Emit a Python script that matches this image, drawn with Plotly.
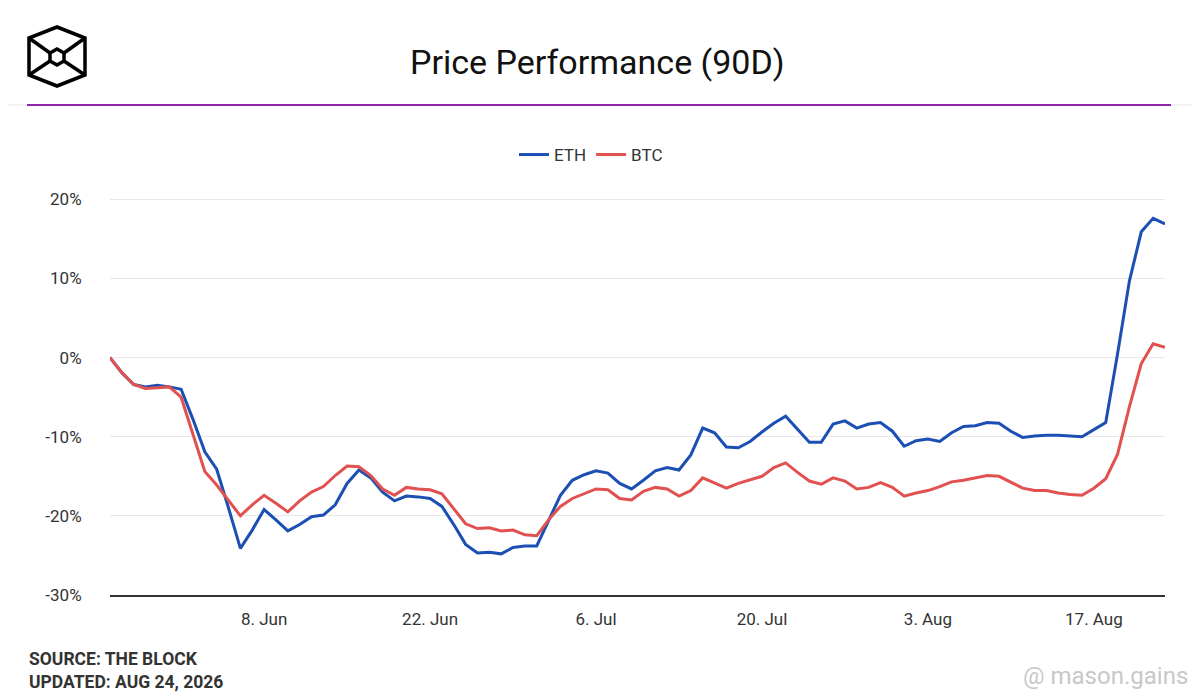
import plotly.graph_objects as go
import pandas as pd

# daily % change over 90 days, 26 May -> 23 Aug 2026
dates = pd.date_range("2026-05-26", periods=90, freq="D")

eth = [0, -1.9, -3.4, -3.7, -3.5, -3.7, -4.0, -7.8, -11.9, -14.1,
       -19.0, -24.1, -21.8, -19.2, -20.5, -21.9, -21.1, -20.1, -19.9, -18.6,
       -15.9, -14.2, -15.2, -17.0, -18.1, -17.5, -17.6, -17.8, -18.8, -21.1,
       -23.6, -24.7, -24.6, -24.8, -24.0, -23.8, -23.8, -20.7, -17.4, -15.5,
       -14.8, -14.3, -14.6, -15.9, -16.6, -15.5, -14.3, -13.9, -14.2, -12.3,
       -8.9, -9.5, -11.3, -11.4, -10.6, -9.4, -8.3, -7.4, -9.0, -10.7,
       -10.7, -8.4, -8.0, -8.9, -8.4, -8.2, -9.3, -11.2, -10.5, -10.3,
       -10.6, -9.5, -8.7, -8.6, -8.2, -8.3, -9.3, -10.1, -9.9, -9.8,
       -9.8, -9.9, -10.0, -9.1, -8.2, 0.5, 9.7, 15.9, 17.6, 16.9]

btc = [0, -1.9, -3.4, -3.9, -3.8, -3.7, -5.0, -9.8, -14.4, -16.1,
       -18.0, -20.0, -18.6, -17.4, -18.4, -19.5, -18.1, -17.0, -16.3, -14.9,
       -13.7, -13.8, -14.9, -16.6, -17.4, -16.4, -16.6, -16.7, -17.2, -19.1,
       -21.0, -21.6, -21.5, -21.9, -21.8, -22.4, -22.5, -20.5, -18.8, -17.8,
       -17.2, -16.6, -16.7, -17.8, -18.0, -16.9, -16.4, -16.6, -17.5, -16.8,
       -15.2, -15.9, -16.5, -15.9, -15.4, -15.0, -13.9, -13.3, -14.5, -15.6,
       -16.0, -15.2, -15.6, -16.6, -16.4, -15.8, -16.4, -17.5, -17.1, -16.8,
       -16.3, -15.7, -15.5, -15.2, -14.9, -15.0, -15.75, -16.5, -16.8, -16.8,
       -17.1, -17.3, -17.4, -16.5, -15.3, -12.2, -6.2, -0.75, 1.75, 1.3]

y_ticks = [-30, -20, -10, 0, 10, 20]
y_labels = ["-30%", "-20%", "-10%", "0%", "10%", "20%"]
x_ticks = ["2026-06-08", "2026-06-22", "2026-07-06", "2026-07-20", "2026-08-03", "2026-08-17"]

FONT = "Roboto"
OFF = 8  # page body margin
W, H = 1200 - OFF, 700 - OFF
L, R, T, B = 110 - OFF, 35, 197 - OFF, 105


def px(x, y):
    # screen pixel position -> paper coords
    x, y = x - OFF, y - OFF
    return (x - L) / (W - L - R), (H - B - y) / (H - T - B)


fig = go.Figure()
fig.add_trace(go.Scatter(x=dates, y=eth, name="ETH", mode="lines",
                         line=dict(color="#1b4fb3", width=3)))
fig.add_trace(go.Scatter(x=dates, y=btc, name="BTC", mode="lines",
                         line=dict(color="#e0514f", width=3)))

shapes = []
# header rules
x0, y0 = px(0, 105); x1, _ = px(1200, 105)
shapes.append(dict(type="line", xref="paper", yref="paper", x0=x0, x1=x1, y0=y0, y1=y0,
                   line=dict(color="#e6e6e6", width=1)))
x0, _ = px(27, 105); x1, _ = px(1171, 105)
shapes.append(dict(type="line", xref="paper", yref="paper", x0=x0, x1=x1, y0=y0, y1=y0,
                   line=dict(color="#8e24aa", width=2)))

# logo: hexagon cube
outer = [(57, 27), (85, 38), (85, 75), (57, 86), (29, 75), (29, 38)]
inner = [(57, 49), (64, 53), (64, 61), (57, 65), (50, 61), (50, 53)]


def poly_path(pts):
    p = [px(*q) for q in pts]
    return "M " + " L ".join(f"{a:.5f},{b:.5f}" for a, b in p) + " Z"


logo_line = dict(color="black", width=3.5)
shapes.append(dict(type="path", xref="paper", yref="paper", path=poly_path(outer), line=logo_line))
shapes.append(dict(type="path", xref="paper", yref="paper", path=poly_path(inner), line=logo_line))
for (a, b) in [((29, 38), (50, 53)), ((85, 38), (64, 53)), ((29, 75), (50, 61)), ((85, 75), (64, 61))]:
    xa, ya = px(*a); xb, yb = px(*b)
    shapes.append(dict(type="line", xref="paper", yref="paper", x0=xa, y0=ya, x1=xb, y1=yb, line=logo_line))

annotations = []
tx, ty = px(597, 62)
annotations.append(dict(text="Price Performance (90D)", x=tx, y=ty, xref="paper", yref="paper",
                        showarrow=False, xanchor="center", yanchor="middle",
                        font=dict(family=FONT, size=34, color="#111")))
sx, sy = px(27, 670)
annotations.append(dict(text="<b>SOURCE: THE BLOCK</b><br><b>UPDATED: AUG 24, 2026</b>", x=sx, y=sy,
                        xref="paper", yref="paper", showarrow=False, xanchor="left", yanchor="middle",
                        align="left", font=dict(family=FONT, size=17.5, color="#333")))
wx, wy = px(1190, 676)
annotations.append(dict(text="@ mason.gains", x=wx, y=wy, xref="paper", yref="paper",
                        showarrow=False, xanchor="right", yanchor="middle",
                        font=dict(family=FONT, size=24, color="#c8c8c8")))

lx, ly = px(591, 155)
fig.update_layout(
    width=W, height=H,
    margin=dict(l=L, r=R, t=T, b=B),
    plot_bgcolor="white", paper_bgcolor="white",
    font=dict(family=FONT, size=16, color="#333"),
    showlegend=True,
    legend=dict(orientation="h", x=lx, y=ly, xanchor="center", yanchor="middle",
                font=dict(family=FONT, size=17, color="#333")),
    shapes=shapes,
    annotations=annotations,
    xaxis=dict(range=[dates[0], dates[-1]], tickvals=x_ticks, tickformat="%-d. %b",
               showgrid=False, showline=True, linecolor="#333", linewidth=1.5,
               ticks="outside", ticklen=8, tickcolor="rgba(0,0,0,0)",
               tickfont=dict(size=17, color="#333")),
    yaxis=dict(range=[-30, 20.3], tickvals=y_ticks, ticktext=y_labels,
               showgrid=True, gridcolor="#e8e8e8", gridwidth=1, zeroline=False,
               showline=False, ticks="outside", ticklen=24, tickcolor="rgba(0,0,0,0)",
               tickfont=dict(size=17, color="#333")),
)

fig.write_html("out.html")
